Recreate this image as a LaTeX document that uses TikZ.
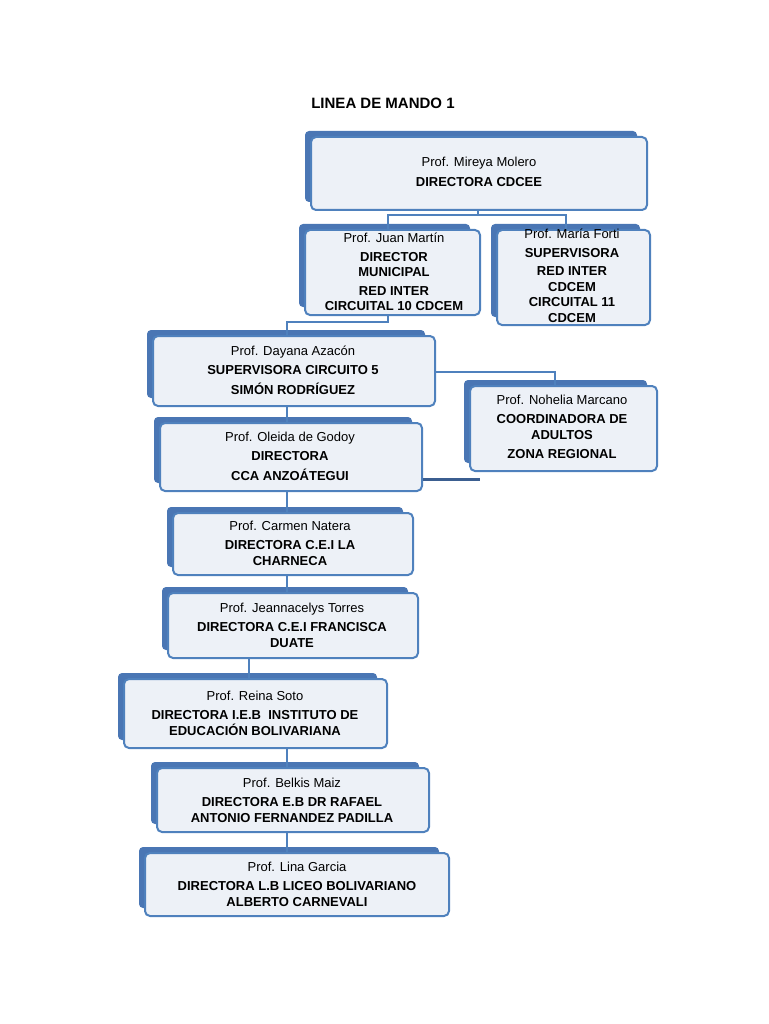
\documentclass[tikz,border=0pt]{standalone}
\usepackage{fontspec}
\setmainfont{Liberation Sans}
\usetikzlibrary{fit}
\definecolor{shc}{HTML}{4A76B4}
\definecolor{brd}{HTML}{4F81BD}
\definecolor{fil}{HTML}{EDF1F7}
\tikzset{front/.style={draw=brd,line width=2pt,fill=fil,rounded corners=5pt,inner sep=0pt},
 txt/.style={align=center,font=\fontsize{13}{15.5}\selectfont,text=black},
 con/.style={draw=brd,line width=1.3pt}}
\newcommand\obox[5]{%
 \fill[shc,rounded corners=4pt] (#2-6,#3-6) rectangle (#4-10,#5-8);
 \node[front,fit={(#2,#3) (#4,#5)}] (#1) {};}
\begin{document}
\begin{tikzpicture}[x=1pt,y=-1pt]
\useasboundingbox (0,0) rectangle (768,1024);
\node[font=\fontsize{15}{18}\selectfont\bfseries] (title) at (383,103) {LINEA DE MANDO 1};
\obox{a}{311}{137}{647}{210}
\obox{b}{305}{230}{480}{315}
\obox{c}{497}{230}{650}{325}
\obox{d}{153}{336}{435}{406}
\obox{e}{470}{386}{657}{471}
\obox{f}{160}{423}{422}{491}
\obox{g}{173}{513}{413}{575}
\obox{h}{168}{593}{418}{658}
\obox{i}{124}{679}{387}{748}
\obox{j}{157}{768}{429}{832}
\obox{k}{145}{853}{449}{916}
% connectors
\coordinate (a1) at (478,215); \coordinate (aL) at (388,215); \coordinate (aR) at (566,215);
\draw[con] (a.south -| a1) -- (a1) (aL |- b.north) -- (aL) -- (aR) -- (aR |- c.north);
\coordinate (b1) at (388,322); \coordinate (bL) at (287,322);
\draw[con] (b.south -| b1) -- (b1) -- (bL) -- (bL |- d.north);
\coordinate (d1) at (555,372);
\draw[con] (d.east |- d1) -- (d1) -- (d1 |- e.north);
\coordinate (f1) at (480,479);
\draw[draw=shc!80!black,line width=3pt] (f.east |- f1) -- (f1);
\coordinate (x1) at (287,0);
\draw[con] (d.south -| x1) -- (f.north -| x1);
\draw[con] (f.south -| x1) -- (g.north -| x1);
\draw[con] (g.south -| x1) -- (h.north -| x1);
\coordinate (x2) at (249,0);
\draw[con] (h.south -| x2) -- (i.north -| x2);
\draw[con] (i.south -| x1) -- (j.north -| x1);
\draw[con] (j.south -| x1) -- (k.north -| x1);
% texts
\node[txt] (ta) at (479,172) {Prof. Mireya Molero\\[5pt]\textbf{DIRECTORA CDCEE}};
\node[txt] (tb) at (394,272) {Prof. Juan Martín\\[3pt]\textbf{DIRECTOR}\\\textbf{MUNICIPAL}\\[3pt]\textbf{RED INTER}\\\textbf{CIRCUITAL 10 CDCEM}};
\node[txt] (tc) at (572,276) {Prof. María Forti\\[3pt]\textbf{SUPERVISORA}\\[3pt]\textbf{RED INTER}\\\textbf{CDCEM}\\\textbf{CIRCUITAL 11}\\\textbf{CDCEM}};
\node[txt] (td) at (293,370) {Prof. Dayana Azacón\\[4pt]\textbf{SUPERVISORA CIRCUITO 5}\\[4pt]\textbf{SIMÓN RODRÍGUEZ}};
\node[txt] (te) at (562,427) {Prof. Nohelia Marcano\\[4pt]\textbf{COORDINADORA DE}\\\textbf{ADULTOS}\\[4pt]\textbf{ZONA REGIONAL}};
\node[txt] (tf) at (290,456) {Prof. Oleida de Godoy\\[4pt]\textbf{DIRECTORA}\\[4pt]\textbf{CCA ANZOÁTEGUI}};
\node[txt] (tg) at (290,543) {Prof. Carmen Natera\\[4pt]\textbf{DIRECTORA C.E.I LA}\\\textbf{CHARNECA}};
\node[txt] (th) at (292,625) {Prof. Jeannacelys Torres\\[4pt]\textbf{DIRECTORA C.E.I FRANCISCA}\\\textbf{DUATE}};
\node[txt] (ti) at (255,713) {Prof. Reina Soto\\[4pt]\textbf{DIRECTORA I.E.B\ \ INSTITUTO DE}\\\textbf{EDUCACIÓN BOLIVARIANA}};
\node[txt] (tj) at (292,800) {Prof. Belkis Maiz\\[4pt]\textbf{DIRECTORA E.B DR RAFAEL}\\\textbf{ANTONIO FERNANDEZ PADILLA}};
\node[txt] (tk) at (297,884) {Prof. Lina Garcia\\[4pt]\textbf{DIRECTORA L.B LICEO BOLIVARIANO}\\\textbf{ALBERTO CARNEVALI}};
\end{tikzpicture}
\end{document}
